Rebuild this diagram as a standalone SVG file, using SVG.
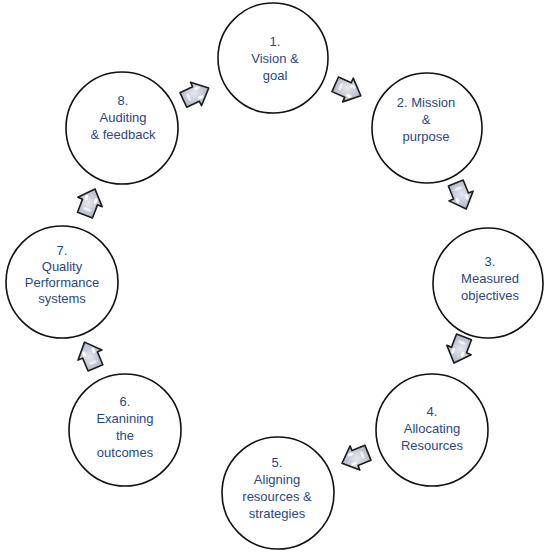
<svg xmlns="http://www.w3.org/2000/svg" width="553" height="553" viewBox="0 0 553 553">
<style>
.node circle{fill:#fff;stroke:#111;stroke-width:1.6}
.node text{font-family:"Liberation Sans",Arial,sans-serif;font-size:13px;fill:#2a4784;text-anchor:middle}
</style>
<defs>
<radialGradient id="ag" cx="0.45" cy="0.45" r="0.65">
<stop offset="0" stop-color="#e6e8ef"/>
<stop offset="0.6" stop-color="#bfc3d0"/>
<stop offset="1" stop-color="#9ea3b3"/>
</radialGradient>
<g id="arrow">
<path d="M-14,-8 L0,-8 L0,-13 L14,0 L0,13 L0,8 L-14,8 Z" fill="url(#ag)" stroke="#1c1c1c" stroke-width="1.6" stroke-linejoin="round"/>
<ellipse cx="3" cy="-5" rx="3" ry="1.6" fill="#fff" opacity="0.9"/>
<ellipse cx="3" cy="5" rx="3" ry="1.6" fill="#fff" opacity="0.9"/>
<ellipse cx="-8" cy="0" rx="1.5" ry="4" fill="#fff" opacity="0.7"/>
</g>
</defs>
<rect width="553" height="553" fill="#fff"/>
<g id="connectors">
<use href="#arrow" transform="translate(196,94) rotate(-25)"/>
<use href="#arrow" transform="translate(348,90) rotate(24)"/>
<use href="#arrow" transform="translate(461,196) rotate(68)"/>
<use href="#arrow" transform="translate(459,350) rotate(111)"/>
<use href="#arrow" transform="translate(355,458) rotate(158)"/>
<use href="#arrow" transform="translate(90,355) rotate(-113)"/>
<use href="#arrow" transform="translate(90,202) rotate(-69)"/>
</g>
<g id="n1" class="node"><circle cx="273" cy="58" r="55"/>
<text x="275" y="46">1.</text><text x="275" y="63">Vision &amp;</text><text x="275" y="80">goal</text></g>
<g id="n2" class="node"><circle cx="427" cy="128" r="55"/>
<text x="426" y="107">2. Mission</text><text x="426" y="124">&amp;</text><text x="426" y="141">purpose</text></g>
<g id="n3" class="node"><circle cx="488" cy="283" r="55"/>
<text x="490" y="266">3.</text><text x="490" y="283">Measured</text><text x="490" y="300">objectives</text></g>
<g id="n4" class="node"><circle cx="432" cy="430" r="56"/>
<text x="432" y="416">4.</text><text x="432" y="433">Allocating</text><text x="432" y="450">Resources</text></g>
<g id="n5" class="node"><circle cx="278" cy="493" r="56"/>
<text x="277" y="467">5.</text><text x="277" y="484">Aligning</text><text x="277" y="501">resources &amp;</text><text x="277" y="518">strategies</text></g>
<g id="n6" class="node"><circle cx="125" cy="430" r="56"/>
<text x="125" y="406">6.</text><text x="125" y="423">Exanining</text><text x="125" y="440">the</text><text x="125" y="457">outcomes</text></g>
<g id="n7" class="node"><circle cx="62" cy="282" r="56"/>
<text x="62" y="255">7.</text><text x="62" y="271">Quality</text><text x="62" y="287">Performance</text><text x="62" y="303">systems</text></g>
<g id="n8" class="node"><circle cx="122" cy="128" r="56"/>
<text x="123" y="105">8.</text><text x="123" y="122">Auditing</text><text x="123" y="139">&amp; feedback</text></g>
</svg>
